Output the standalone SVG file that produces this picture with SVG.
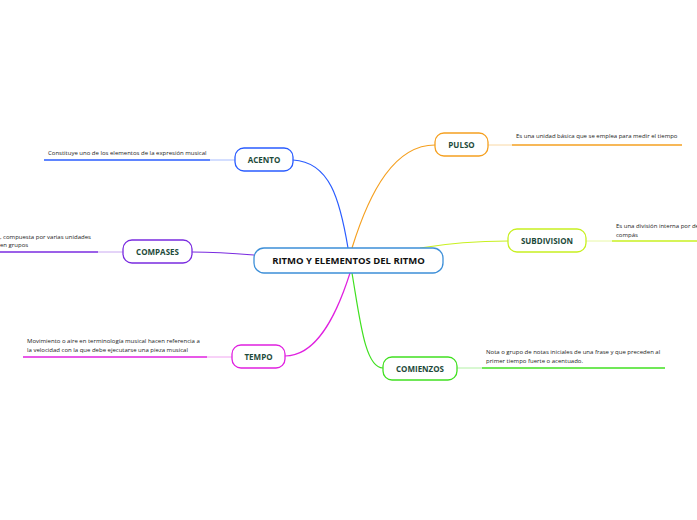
<svg xmlns="http://www.w3.org/2000/svg" width="697" height="520" viewBox="0 0 697 520">
<style>
.n{fill:#fff;stroke-width:1.3}
.t{font-family:"Open Sans","Liberation Sans",sans-serif;font-weight:bold;font-size:8px;fill:#1d4a3a;text-anchor:middle}
.d{font-family:"Open Sans","Liberation Sans",sans-serif;font-size:6px;fill:#222}
.c{fill:none;stroke-width:1.2}
.u{stroke-width:1.5}
.l{stroke-width:1;opacity:0.4}
</style>
<rect width="697" height="520" fill="#fff"/>
<g id="connectors">
<path class="c" stroke="#2a5cff" d="M348,248 C340,200 330,162 293,160"/>
<path class="c" stroke="#7a2be0" d="M254,255 C230,253 215,252 192,252"/>
<path class="c" stroke="#e020e0" d="M350,273 C335,320 315,356 285,356"/>
<path class="c" stroke="#f5a020" d="M352,248 C370,190 395,145 435,145"/>
<path class="c" stroke="#c8f020" d="M420,248 C450,243 480,241 508,241"/>
<path class="c" stroke="#40e020" d="M352,273 C360,320 365,368 383,368"/>
<line class="l" stroke="#2a5cff" x1="210" y1="160" x2="235" y2="160"/>
<line class="u" stroke="#2a5cff" x1="44" y1="160" x2="210" y2="160"/>
<line class="l" stroke="#7a2be0" x1="98" y1="252" x2="123" y2="252"/>
<line class="u" stroke="#7a2be0" x1="0" y1="252" x2="98" y2="252"/>
<line class="l" stroke="#e020e0" x1="207" y1="357" x2="232" y2="357"/>
<line class="u" stroke="#e020e0" x1="23" y1="357" x2="207" y2="357"/>
<line class="l" stroke="#f5a020" x1="488" y1="145" x2="512" y2="145"/>
<line class="u" stroke="#f5a020" x1="512" y1="145" x2="682" y2="145"/>
<line class="l" stroke="#c8f020" x1="586" y1="241" x2="612" y2="241"/>
<line class="u" stroke="#c8f020" x1="612" y1="241" x2="697" y2="241"/>
<line class="l" stroke="#40e020" x1="457" y1="368" x2="482" y2="368"/>
<line class="u" stroke="#40e020" x1="482" y1="368" x2="665" y2="368"/>
</g>
<g id="center"><rect class="n" stroke="#3d8fd8" x="254" y="248" width="189" height="25" rx="10"/><text class="t" style="font-size:9.5px;fill:#111" x="348.5" y="264">RITMO Y ELEMENTOS DEL RITMO</text></g>
<g id="acento"><rect class="n" stroke="#2a5cff" x="235" y="148" width="58" height="23" rx="9"/><text class="t" x="264" y="163">ACENTO</text><text class="d" x="48" y="155">Constituye uno de los elementos de la expresión musical</text></g>
<g id="compases"><rect class="n" stroke="#7a2be0" x="123" y="240" width="69" height="23" rx="9"/><text class="t" x="157.5" y="255">COMPASES</text><text class="d" x="0" y="239">, compuesta por varias unidades</text><text class="d" x="0" y="247">en grupos</text></g>
<g id="tempo"><rect class="n" stroke="#e020e0" x="232" y="345" width="53" height="23" rx="9"/><text class="t" x="258.5" y="360">TEMPO</text><text class="d" x="27" y="343">Movimiento o aire en terminología musical hacen referencia a</text><text class="d" x="27" y="352">la velocidad con la que debe ejecutarse una pieza musical</text></g>
<g id="pulso"><rect class="n" stroke="#f5a020" x="435" y="133" width="53" height="23" rx="9"/><text class="t" x="461.5" y="148">PULSO</text><text class="d" x="516" y="138">Es una unidad básica que se emplea para medir el tiempo</text></g>
<g id="subdivision"><rect class="n" stroke="#c8f020" x="508" y="229" width="78" height="23" rx="9"/><text class="t" x="547" y="244">SUBDIVISION</text><text class="d" x="616" y="228">Es una división interna por de</text><text class="d" x="616" y="237">compás</text></g>
<g id="comienzos"><rect class="n" stroke="#40e020" x="383" y="357" width="74" height="23" rx="9"/><text class="t" x="420" y="372">COMIENZOS</text><text class="d" x="486" y="354">Nota o grupo de notas iniciales de una frase y que preceden al</text><text class="d" x="486" y="363">primer tiempo fuerte o acentuado.</text></g>
</svg>
